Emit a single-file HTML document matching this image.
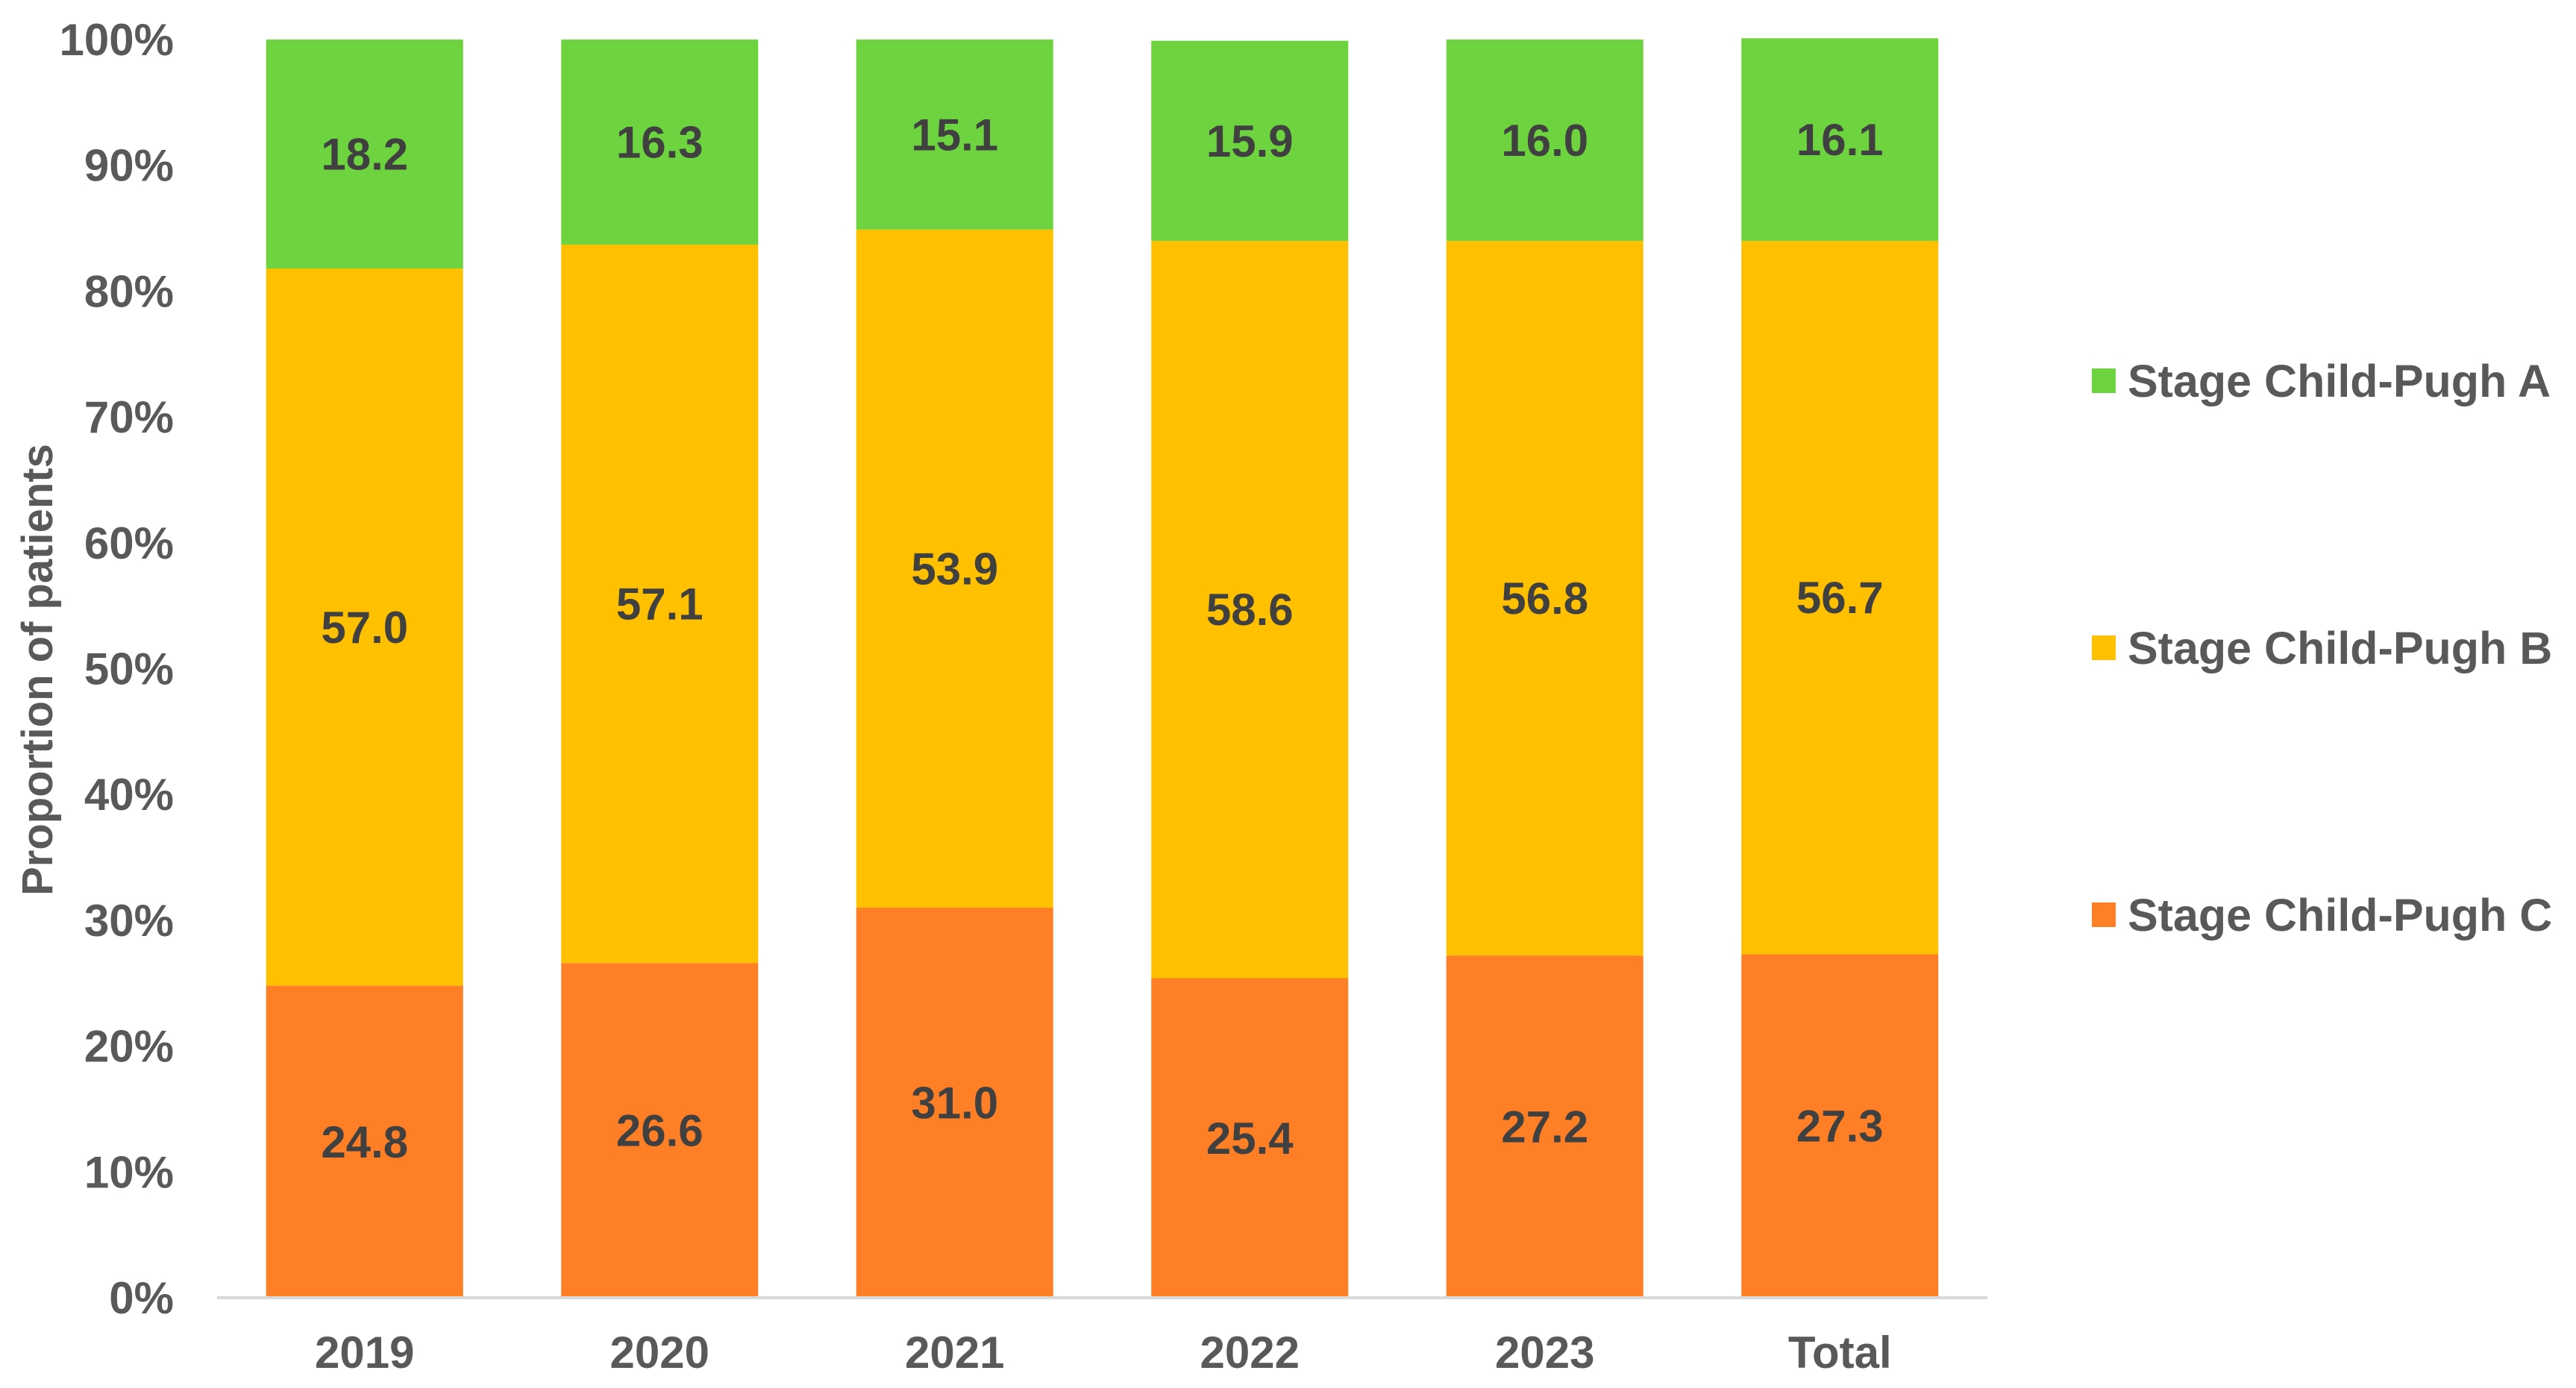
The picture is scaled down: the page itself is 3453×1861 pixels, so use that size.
<!DOCTYPE html>
<html><head><meta charset="utf-8"><style>
html,body{margin:0;padding:0;background:#fff}
svg{display:block}
text{font-family:"Liberation Sans",Arial,sans-serif;font-weight:bold}
</style></head><body>
<svg id="chart" width="3453" height="1861" viewBox="0 0 3453 1861" xmlns="http://www.w3.org/2000/svg">
<g id="yticks"></g>
<g id="bars"></g>
<g id="xticks"></g>
<line x1="291" y1="1740" x2="2664" y2="1740" stroke="#d9d9d9" stroke-width="4"/>
<text transform="translate(70,898) rotate(-90)" text-anchor="middle" font-size="58" fill="#595959">Proportion of patients</text>
<g id="legend"></g>
</svg>
<script>
const categories = ["2019","2020","2021","2022","2023","Total"];
const stageC = [24.8,26.6,31.0,25.4,27.2,27.3];
const stageB = [57.0,57.1,53.9,58.6,56.8,56.7];
const stageA = [18.2,16.3,15.1,15.9,16.0,16.1];
const yTickLabels = ["0%","10%","20%","30%","40%","50%","60%","70%","80%","90%","100%"];
const seriesNames = ["Stage Child-Pugh A","Stage Child-Pugh B","Stage Child-Pugh C"];

const NS="http://www.w3.org/2000/svg";
const x0=291,x1=2664,yBase=1740,yTop=53,barW=264;
const bandW=(x1-x0)/categories.length;
function xCenter(i){return x0+bandW*(i+0.5);}
function yScale(p){return yBase-(yBase-yTop)*p/100;}
function mk(tag,attrs,parent){const e=document.createElementNS(NS,tag);for(const k in attrs)e.setAttribute(k,attrs[k]);parent.appendChild(e);return e;}

const yt=document.getElementById('yticks');
yTickLabels.forEach((l,i)=>{
  const t=mk('text',{x:233,y:yScale(i*10)+21,'text-anchor':'end','font-size':'60',fill:'#595959'},yt);
  
  
  t.textContent=l;
});

const colors={A:'#6dd43f',B:'#ffc000',C:'#ff7f27'};
const bars=document.getElementById('bars');
const xt=document.getElementById('xticks');
categories.forEach((c,i)=>{
  const segs=[['C',stageC[i]],['B',stageB[i]],['A',stageA[i]]];
  let cum=0;
  segs.forEach(([k,v])=>{
    const yt1=yScale(cum+v), yb=yScale(cum);
    const r=mk('rect',{x:xCenter(i)-barW/2,y:yt1,width:barW,height:yb-yt1,fill:colors[k]},bars);
    
    
    const t=mk('text',{x:xCenter(i),y:(yt1+yb)/2+21,'text-anchor':'middle','font-size':'60',fill:'#404040'},bars);
    
    
    t.textContent=v.toFixed(1);
    cum+=v;
  });
  const t=mk('text',{x:xCenter(i),y:1834,'text-anchor':'middle','font-size':'60',fill:'#595959'},xt);
  
  
  t.textContent=c;
});

const lg=document.getElementById('legend');
const legY=[510,868,1226];
const legC=[colors.A,colors.B,colors.C];
seriesNames.forEach((n,i)=>{
  const r=mk('rect',{x:2804,y:legY[i]-16,width:32,height:33,fill:legC[i]},lg);
  
  
  const t=mk('text',{x:2852,y:legY[i]+22,'font-size':'61',fill:'#595959'},lg);
  
  
  t.textContent=n;
});
</script>
</body></html>
